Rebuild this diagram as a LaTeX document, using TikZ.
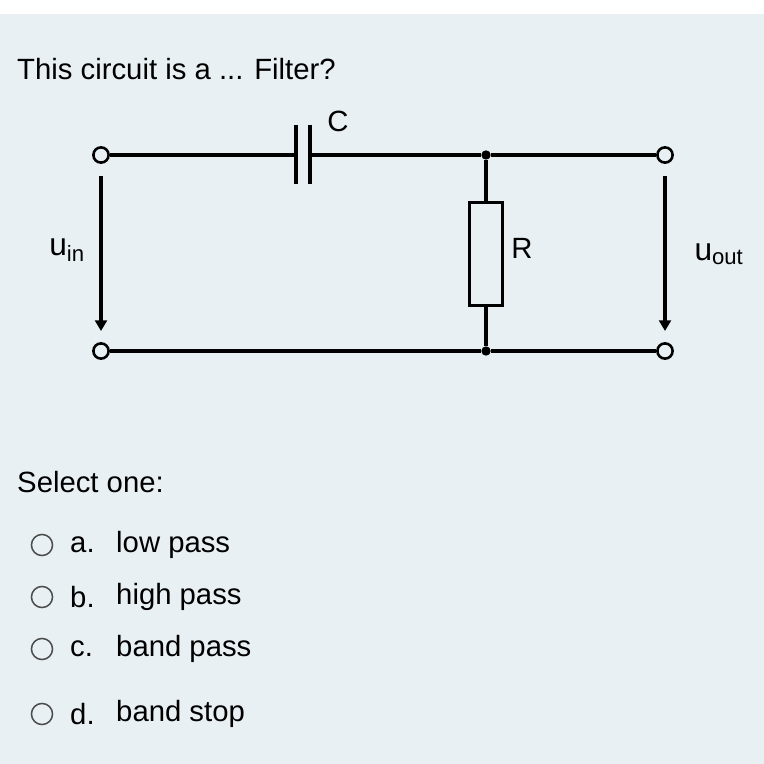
\documentclass[tikz,border=0pt]{standalone}
\usepackage{fontspec}
\setmainfont{Liberation Sans}
\usetikzlibrary{positioning, arrows.meta}
\definecolor{pagebg}{HTML}{E9F0F3}
\tikzset{
  txt/.style={font=\fontsize{25}{30}\selectfont, inner sep=0pt},
  ulab/.style={font=\fontsize{27}{30}\selectfont, inner sep=0pt},
  term/.style={circle, draw, line width=2.2pt, fill=pagebg, minimum size=13pt, inner sep=0pt},
  junc/.style={circle, fill, minimum size=8pt, inner sep=0pt},
  wire/.style={line width=2.6pt},
  radio/.style={circle, draw=black!70, line width=1.3pt, minimum size=18pt, inner sep=0pt}
}
\begin{document}
\begin{tikzpicture}[x=0.03cm,y=-0.03cm]
                
                %Background
                \fill[white] (0,0) rectangle (764,764);
                \fill[pagebg] (0,14) rectangle (764,764);
                \useasboundingbox (0,0) rectangle (764,764);
                
                %Question
                \node[txt, anchor=base west] (q) at (17,80) {This circuit is a ... Filter?};
                
                %Terminals and junctions
                \node[term] (t1) at (101,155) {};
                \node[term] (t2) at (665,155) {};
                \node[term] (b1) at (101,351) {};
                \node[term] (b2) at (665,351) {};
                \node[junc] (jt) at (486,155) {};
                \node[junc] (jb) at (486,351) {};
                
                %Capacitor
                \coordinate (cl) at (296,155);
                \coordinate (cr) at (310,155);
                \draw[wire] (t1) -- (cl);
                \draw[wire] (296,125) -- (296,184);
                \draw[wire] (310,125) -- (310,184);
                \draw[wire] (cr) -- (jt) -- (t2);
                \node[txt] (clab) at (338,121) {C};
                
                %Resistor
                \node[draw, wire, minimum width=33*0.03cm, minimum height=103*0.03cm, inner sep=0pt] (res) at (486,254) {};
                \draw[wire] (jt) -- (res.north);
                \draw[wire] (res.south) -- (jb);
                \node[txt] (rlab) at (522,248) {R};
                
                %Bottom wire
                \draw[wire] (b1) -- (jb) -- (b2);
                
                %Voltage arrows
                \coordinate (uia) at (101,176);
                \coordinate (uib) at (101,331);
                \coordinate (uoa) at (665,176);
                \coordinate (uob) at (665,331);
                \draw[wire, -{Triangle[length=9pt,width=10pt]}] (uia) -- (uib);
                \draw[wire, -{Triangle[length=9pt,width=10pt]}] (uoa) -- (uob);
                \node[ulab] (uin) at (67,250) {$\mathrm{u}_{\mathrm{in}}$};
                \node[ulab] (uout) at (719,254) {$\mathrm{u}_{\mathrm{out}}$};
                
                %Answers
                \node[txt, anchor=base west] (sel) at (17,492) {Select one:};
                \foreach \y/\l/\t in {545/a./low pass, 597/b./high pass, 649/c./band pass, 714/d./band stop}
                {
                \node[radio] (r\l) at (42,\y) {};
                \node[txt, anchor=west] (l\l) at (70,\y) {\l};
                \node[txt, anchor=west] (a\l) at (116,\y) {\t};
                }
                    
            \end{tikzpicture}
\end{document}
